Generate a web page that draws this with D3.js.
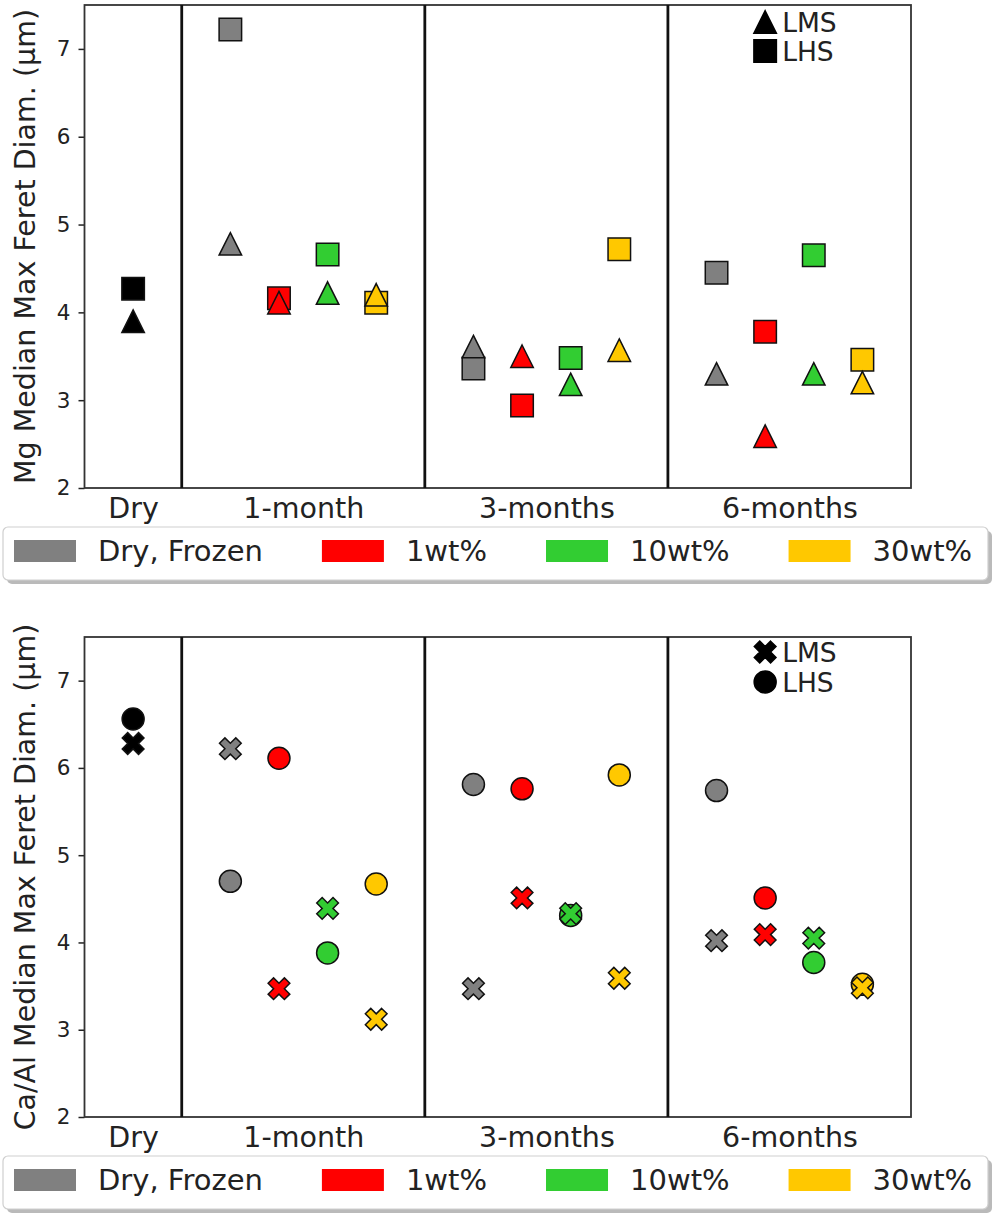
<!DOCTYPE html>
<html>
<head>
<meta charset="utf-8">
<script src="https://cdn.jsdelivr.net/npm/d3@7"></script>
<style>
  body { margin: 0; background: #fff; }
  svg { display: block; font-family: "DejaVu Sans", sans-serif; }
</style>
</head>
<body>
<div id="chart"></div>
<script>
// Categories
var groups = ["Dry", "1-month", "3-months", "6-months"];
var conditions = ["Dry, Frozen", "1wt%", "10wt%", "30wt%"];
var conditionColors = ["#808080", "#ff0000", "#32cd32", "#ffc800"];

// Mg panel: squares = LHS, triangles = LMS (one value per condition per aging group)
var mgDryLHS = 4.27, mgDryLMS = 3.90;
var mgLHS = [
    [7.22, 4.16, 4.66, 4.11],   // 1-month
    [3.36, 2.94, 3.48, 4.72],   // 3-months
    [4.45, 3.78, 4.65, 3.46]    // 6-months
];
var mgLMS = [
    [4.78, 4.11, 4.22, 4.20],
    [3.61, 3.50, 3.18, 3.57],
    [3.30, 2.59, 3.30, 3.20]
];

// Ca/Al panel: circles = LHS, crosses = LMS
var caDryLHS = 6.56, caDryLMS = 6.28;
var caLHS = [
    [4.70, 6.11, 3.88, 4.67],
    [5.81, 5.76, 4.31, 5.92],
    [5.74, 4.51, 3.77, 3.52]
];
var caLMS = [
    [6.22, 3.47, 4.39, 3.12],
    [3.47, 4.51, 4.33, 3.59],
    [4.02, 4.09, 4.05, 3.48]
];

var yTicks = [2, 3, 4, 5, 6, 7];

var width = 997, height = 1219;
var svg = d3.select("#chart").append("svg")
    .attr("width", width)
    .attr("height", height);

// x positions: Dry at 0, then 4 slots per aging group with a gap slot between groups
function slotX(g, i) { return 5 * g + 2 + i; }
function groupCenter(k) { return k === 0 ? 0 : slotX(k - 1, 1.5); }
function separatorX(k) { return k === 0 ? 1 : slotX(k - 1, 4); }

var x = d3.scaleLinear().domain([-1, 16]).range([84.5, 911]);

// marker shapes (matplotlib-like)
function squarePath(s) { var h = s / 2; return "M" + (-h) + "," + (-h) + "H" + h + "V" + h + "H" + (-h) + "Z"; }
function trianglePath(s) { var h = s / 2; return "M0," + (-h) + "L" + h + "," + h + "L" + (-h) + "," + h + "Z"; }
function circlePath(s) { var p = d3.path(); p.arc(0, 0, s / 2, 0, 2 * Math.PI); p.closePath(); return p.toString(); }
function crossPath(s) {
    var pts = [[-1, -3], [1, -3], [1, -1], [3, -1], [3, 1], [1, 1], [1, 3], [-1, 3], [-1, 1], [-3, 1], [-3, -1], [-1, -1]];
    var c = Math.SQRT1_2;
    return "M" + pts.map(function(p) {
        var px = p[0] / 6 * s, py = p[1] / 6 * s;
        return [(px - py) * c, (px + py) * c].join(",");
    }).join("L") + "Z";
}

function drawPanel(opt) {
    var top = opt.top, bottom = opt.bottom;
    var y = d3.scaleLinear().domain([2, 7.5]).range([bottom, top]);
    var g = svg.append("g");

    // y axis
    var yAxis = g.append("g")
        .attr("transform", "translate(" + x.range()[0] + ",0)")
        .call(d3.axisLeft(y).tickValues(yTicks).tickFormat(d3.format("d")).tickSize(6).tickPadding(8));
    yAxis.select(".domain").remove();
    yAxis.selectAll(".tick line").attr("stroke", "#222").attr("stroke-width", 1.5);
    yAxis.selectAll(".tick text").attr("font-size", 21.5).attr("fill", "#222")
        .attr("font-family", "DejaVu Sans");

    // x axis labels (no tick marks)
    var xAxis = g.append("g")
        .attr("transform", "translate(0," + bottom + ")")
        .call(d3.axisBottom(x).tickValues(groups.map(function(d, k) { return groupCenter(k); }))
            .tickFormat(function(d, k) { return groups[k]; }).tickSize(0).tickPadding(8));
    xAxis.select(".domain").remove();
    xAxis.selectAll(".tick text").attr("font-size", 28.5).attr("fill", "#222")
        .attr("font-family", "DejaVu Sans").attr("dy", "0.76em");

    // frame
    g.append("rect")
        .attr("x", x.range()[0]).attr("y", top)
        .attr("width", x.range()[1] - x.range()[0]).attr("height", bottom - top)
        .attr("fill", "none").attr("stroke", "#333").attr("stroke-width", 1.8);

    // group separators
    g.selectAll("line.sep")
        .data([0, 1, 2])
        .enter().append("line")
        .attr("class", "sep")
        .attr("x1", function(d) { return x(separatorX(d)); })
        .attr("x2", function(d) { return x(separatorX(d)); })
        .attr("y1", top).attr("y2", bottom)
        .attr("stroke", "#111").attr("stroke-width", 2.8);

    // y label
    g.append("text")
        .attr("transform", "translate(35," + ((top + bottom) / 2) + ") rotate(-90)")
        .attr("text-anchor", "middle")
        .attr("font-size", 28.5)
        .attr("fill", "#222")
        .text(opt.ylabel);

    // points
    var pts = [];
    function addSeries(dryVal, vals, shape, size) {
        pts.push({ x: 0, v: dryVal, color: "#000", shape: shape, size: size });
        vals.forEach(function(row, gi) {
            row.forEach(function(v, ci) {
                pts.push({ x: slotX(gi, ci), v: v, color: conditionColors[ci], shape: shape, size: size });
            });
        });
    }
    addSeries(opt.dryLHS, opt.lhs, opt.lhsShape, opt.lhsSize);
    addSeries(opt.dryLMS, opt.lms, opt.lmsShape, opt.lmsSize);

    g.selectAll("path.pt")
        .data(pts)
        .enter().append("path")
        .attr("class", "pt")
        .attr("d", function(d) { return d.shape(d.size); })
        .attr("transform", function(d) { return "translate(" + x(d.x) + "," + y(d.v) + ")"; })
        .attr("fill", function(d) { return d.color; })
        .attr("stroke", "#111")
        .attr("stroke-width", 1.5);

    // inner marker legend
    var legX = x(13);
    var legItems = [
        { label: "LMS", shape: opt.lmsShape, size: opt.lmsSize, dy: opt.legDy[0] },
        { label: "LHS", shape: opt.lhsShape, size: opt.lhsSize, dy: opt.legDy[1] }
    ];
    legItems.forEach(function(d) {
        g.append("path")
            .attr("d", d.shape(d.size))
            .attr("transform", "translate(" + legX + "," + (top + d.dy) + ")")
            .attr("fill", "#000").attr("stroke", "#000").attr("stroke-width", 1.5);
        g.append("text")
            .attr("x", legX + 17).attr("y", top + d.dy)
            .attr("dy", "0.36em")
            .attr("font-size", 26.5)
            .attr("fill", "#222")
            .text(d.label);
    });

    // condition legend with shadow
    var lg = g.append("g").attr("transform", "translate(0," + (bottom + 39) + ")");
    var boxW = 985, boxH = 53;
    lg.append("rect").attr("x", 3 + 4).attr("y", 4).attr("width", boxW).attr("height", boxH)
        .attr("rx", 5).attr("fill", "#8c8c8c").attr("opacity", 0.6);
    lg.append("rect").attr("x", 3).attr("y", 0).attr("width", boxW).attr("height", boxH)
        .attr("rx", 5).attr("fill", "#fff").attr("stroke", "#cfcfcf").attr("stroke-width", 1.2);
    var cursor = 14;
    conditions.forEach(function(c, i) {
        lg.append("rect").attr("x", cursor).attr("y", 13).attr("width", 62).attr("height", 22)
            .attr("fill", conditionColors[i]);
        var t = lg.append("text").attr("x", cursor + 84).attr("y", 24).attr("dy", "0.36em")
            .attr("font-size", 29).attr("fill", "#222").text(c);
        cursor = cursor + 84 + t.node().getComputedTextLength() + 59;
    });
}

drawPanel({
    top: 5, bottom: 488,
    ylabel: "Mg Median Max Feret Diam. (μm)",
    dryLHS: mgDryLHS, dryLMS: mgDryLMS, lhs: mgLHS, lms: mgLMS,
    lhsShape: squarePath, lhsSize: 22.5,
    lmsShape: trianglePath, lmsSize: 22.5,
    legDy: [17, 46]
});

drawPanel({
    top: 637, bottom: 1117,
    ylabel: "Ca/Al Median Max Feret Diam. (μm)",
    dryLHS: caDryLHS, dryLMS: caDryLMS, lhs: caLHS, lms: caLMS,
    lhsShape: circlePath, lhsSize: 22,
    lmsShape: crossPath, lmsSize: 23,
    legDy: [15, 45]
});
</script>
</body>
</html>
